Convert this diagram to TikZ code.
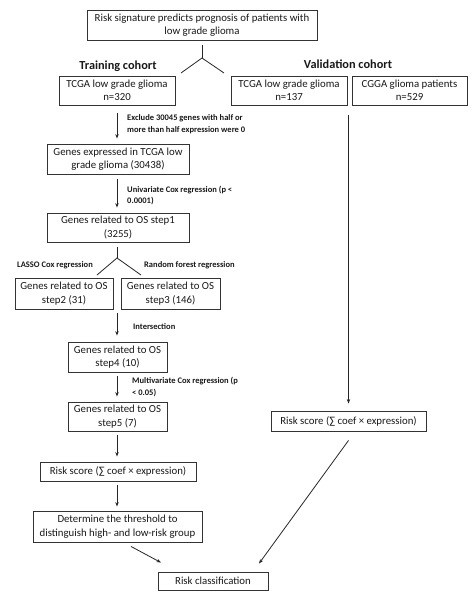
\documentclass[tikz,border=0pt]{standalone}
\usepackage{fontspec}
\setmainfont{Carlito}
\usetikzlibrary{arrows.meta}
\begin{document}
\begin{tikzpicture}[x=1pt,y=-1pt,
  box/.style={draw=black!80,line width=0.9pt,inner sep=1pt,align=center,font=\fontsize{10.8}{13.5}\selectfont,text=black!90},
  lbl/.style={inner sep=0pt,align=left,font=\bfseries\fontsize{8.5}{11.5}\selectfont,text=black!90},
  head/.style={inner sep=0pt,font=\bfseries\fontsize{12.3}{13}\selectfont,text=black!90},
  arr/.style={draw=black!85,line width=0.8pt,-{Stealth[length=4.5pt,width=3.4pt]}},
  ln/.style={draw=black!85,line width=0.8pt}]
\useasboundingbox (0,0) rectangle (474,602);
\fill[white] (0,0) rectangle (474,602);

\node[box,minimum width=230pt,minimum height=30pt] (top) at (202,25) {Risk signature predicts prognosis of patients with\\low grade glioma};
\node[head] (train) at (118,66) {Training cohort};
\node[head] (valid) at (348,64) {Validation cohort};
\node[box,minimum width=116pt,minimum height=29pt] (tcga1) at (117,90.5) {TCGA low grade glioma\\n=320};
\node[box,minimum width=116pt,minimum height=29pt] (tcga2) at (289,90.5) {TCGA low grade glioma\\n=137};
\node[box,minimum width=115pt,minimum height=29pt] (cgga) at (409.5,90.5) {CGGA glioma patients\\n=529};
\node[box,minimum width=142pt,minimum height=30pt] (genes) at (118,159) {Genes expressed in TCGA low\\grade glioma (30438)};
\node[box,minimum width=142pt,minimum height=29pt] (step1) at (118,227.5) {Genes related to OS step1\\(3255)};
\node[box,minimum width=98pt,minimum height=31pt] (step2) at (64,293.5) {Genes related to OS\\step2 (31)};
\node[box,minimum width=99pt,minimum height=31pt] (step3) at (170.5,293.5) {Genes related to OS\\step3 (146)};
\node[box,minimum width=99pt,minimum height=30pt] (step4) at (117.5,357) {Genes related to OS\\step4 (10)};
\node[box,minimum width=99pt,minimum height=29pt] (step5) at (117.5,416.5) {Genes related to OS\\step5 (7)};
\node[box,minimum width=156pt,minimum height=19pt] (risk1) at (118,471.5) {Risk score (∑ coef × expression)};
\node[box,minimum width=169pt,minimum height=31pt] (det) at (117.5,526.5) {Determine the threshold to\\distinguish high- and low-risk group};
\node[box,minimum width=110pt,minimum height=18pt] (cls) at (213,581) {Risk classification};
\node[box,minimum width=155pt,minimum height=20pt] (risk2) at (348.5,421) {Risk score (∑ coef × expression)};

% labels
\node[lbl,anchor=west] (l1) at (127,124) {Exclude 30045 genes with half or\\more than half expression were 0};
\node[lbl,anchor=west] (l2) at (127,195.5) {Univariate Cox regression (p <\\0.0001)};
\node[lbl,anchor=west] (l3) at (17,265) {LASSO Cox regression};
\node[lbl,anchor=west] (l4) at (144,265) {Random forest regression};
\node[lbl,anchor=west] (l5) at (133,327) {Intersection};
\node[lbl,anchor=west] (l6) at (132,387) {Multivariate Cox regression (p\\< 0.05)};

% forks
\coordinate (f1) at (202,58);
\coordinate (f1l) at (181,73);
\coordinate (f1r) at (224,73);
\draw[ln,shorten <=5pt] (top.south) -- (f1);
\draw[ln] (f1l) -- (f1) -- (f1r);
\coordinate (f2) at (117,258);
\coordinate (f2l) at (97,275);
\coordinate (f2r) at (141,275);
\draw[ln,shorten <=5pt] (step1.south -| f2) -- (f2);
\draw[ln] (f2l) -- (f2) -- (f2r);

% arrows
\draw[arr,shorten <=8pt,shorten >=5pt] (tcga1.south) -- (tcga1.south |- genes.north);
\draw[arr,shorten <=5pt,shorten >=5pt] (genes.south -| tcga1.south) -- (tcga1.south |- step1.north);
\draw[arr,shorten <=4pt,shorten >=6pt] (step2.south -| tcga1.south) -- (tcga1.south |- step4.north);
\draw[arr,shorten <=4pt,shorten >=5pt] (step4.south -| tcga1.south) -- (tcga1.south |- step5.north);
\draw[arr,shorten <=4pt,shorten >=5pt] (step5.south -| tcga1.south) -- (tcga1.south |- risk1.north);
\draw[arr,shorten <=4pt,shorten >=4pt] (risk1.south -| tcga1.south) -- (tcga1.south |- det.north);
\draw[arr] ([xshift=13.5pt,yshift=-4pt]det.south) -- ([xshift=-52pt,yshift=9pt]cls.north);
\draw[arr,shorten <=10pt,shorten >=7pt] (risk2.north |- tcga2.south) -- (risk2.north);
\draw[arr] ([yshift=-9pt]risk2.south) -- ([xshift=46pt,yshift=8pt]cls.north);
\end{tikzpicture}
\end{document}
